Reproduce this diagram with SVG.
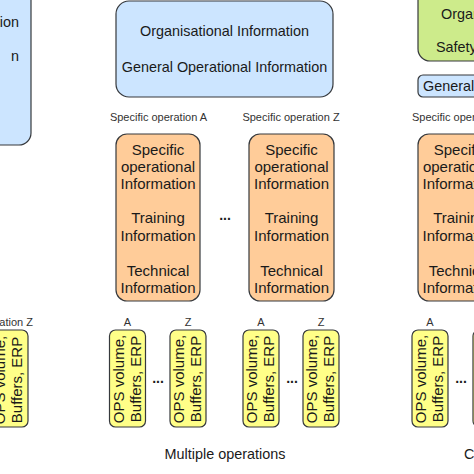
<svg xmlns="http://www.w3.org/2000/svg" width="474" height="474" viewBox="0 0 474 474">
<style>
  text { font-family: "Liberation Sans", Arial, sans-serif; fill: #1a1a1a; }
  .blue { fill: #cce5ff; stroke: #36393d; stroke-width: 1.2; }
  .green { fill: #cdeb8b; stroke: #36393d; stroke-width: 1.2; }
  .orange { fill: #ffcc99; stroke: #36393d; stroke-width: 1.2; }
  .yellow { fill: #ffff88; stroke: #36393d; stroke-width: 1.2; }
  .big { font-size: 14.4px; }
  .ot { font-size: 15px; text-anchor: middle; }
  .lab { font-size: 11px; fill: #333; }
  .yt { font-size: 15px; text-anchor: middle; }
  .dots { font-size: 14px; font-weight: bold; text-anchor: middle; }
</style>
<rect width="474" height="474" fill="#ffffff"/>

<g id="left-general">
  <rect class="blue" x="-60" y="-20" width="91" height="165" rx="12"/>
  <text class="big" x="19" y="27" text-anchor="end">ation</text>
  <text class="big" x="19" y="61" text-anchor="end">n</text>
</g>

<g id="left-yellow">
  <text class="lab" x="33" y="326" text-anchor="end">operation Z</text>
  <rect class="yellow" x="-9" y="330" width="37" height="97" rx="6"/>
  <text class="yt" transform="translate(0,380) rotate(-90)" dy="0.35em">OPS volume,</text>
  <text class="yt" transform="translate(17,380) rotate(-90)" dy="0.35em">Buffers, ERP</text>
</g>

<g id="general-multi">
  <rect class="blue" x="116" y="1" width="217" height="96" rx="13"/>
  <text class="big" x="224.5" y="36" text-anchor="middle">Organisational Information</text>
  <text class="big" x="224.5" y="72" text-anchor="middle">General Operational Information</text>
</g>

<g id="op-A">
  <text class="lab" x="158.5" y="121" text-anchor="middle">Specific operation A</text>
  <rect class="orange" x="116" y="134" width="84" height="167" rx="11"/>
  <text class="ot" x="158" y="155">Specific</text>
  <text class="ot" x="158" y="172">operational</text>
  <text class="ot" x="158" y="189">Information</text>
  <text class="ot" x="158" y="223">Training</text>
  <text class="ot" x="158" y="241">Information</text>
  <text class="ot" x="158" y="276">Technical</text>
  <text class="ot" x="158" y="293">Information</text>
</g>

<g id="op-Z">
  <text class="lab" x="291" y="121" text-anchor="middle">Specific operation Z</text>
  <rect class="orange" x="249" y="134" width="85" height="167" rx="11"/>
  <text class="ot" x="291.5" y="155">Specific</text>
  <text class="ot" x="291.5" y="172">operational</text>
  <text class="ot" x="291.5" y="189">Information</text>
  <text class="ot" x="291.5" y="223">Training</text>
  <text class="ot" x="291.5" y="241">Information</text>
  <text class="ot" x="291.5" y="276">Technical</text>
  <text class="ot" x="291.5" y="293">Information</text>
</g>
<text class="dots" x="225" y="220">...</text>

<g id="yA1">
  <text class="lab" x="127.5" y="326" text-anchor="middle">A</text>
  <rect class="yellow" x="109.5" y="330" width="36" height="97" rx="6"/>
  <text class="yt" transform="translate(118.5,379) rotate(-90)" dy="0.35em">OPS volume,</text>
  <text class="yt" transform="translate(135.5,379) rotate(-90)" dy="0.35em">Buffers, ERP</text>
</g>
<text class="dots" x="158" y="383">...</text>
<g id="yZ1">
  <text class="lab" x="188" y="326" text-anchor="middle">Z</text>
  <rect class="yellow" x="170" y="330" width="36" height="97" rx="6"/>
  <text class="yt" transform="translate(179,379) rotate(-90)" dy="0.35em">OPS volume,</text>
  <text class="yt" transform="translate(196,379) rotate(-90)" dy="0.35em">Buffers, ERP</text>
</g>
<g id="yA2">
  <text class="lab" x="261" y="326" text-anchor="middle">A</text>
  <rect class="yellow" x="243" y="330" width="36" height="97" rx="6"/>
  <text class="yt" transform="translate(252,379) rotate(-90)" dy="0.35em">OPS volume,</text>
  <text class="yt" transform="translate(269,379) rotate(-90)" dy="0.35em">Buffers, ERP</text>
</g>
<text class="dots" x="292" y="383">...</text>
<g id="yZ2">
  <text class="lab" x="321" y="326" text-anchor="middle">Z</text>
  <rect class="yellow" x="303" y="330" width="36" height="97" rx="6"/>
  <text class="yt" transform="translate(312,379) rotate(-90)" dy="0.35em">OPS volume,</text>
  <text class="yt" transform="translate(329,379) rotate(-90)" dy="0.35em">Buffers, ERP</text>
</g>
<text class="big" x="225" y="459" text-anchor="middle">Multiple operations</text>

<g id="right-general">
  <rect class="green" x="418" y="-20" width="120" height="81" rx="12"/>
  <text class="big" x="441" y="19">Organisational Information</text>
  <text class="big" x="436" y="52">Safety</text>
  <rect class="blue" x="418" y="75" width="120" height="22" rx="5"/>
  <text class="big" x="423" y="91">General</text>
</g>

<g id="right-op">
  <text class="lab" x="412" y="121">Specific operation</text>
  <rect class="orange" x="418" y="134" width="84" height="167" rx="11"/>
  <text class="ot" x="460" y="155">Specific</text>
  <text class="ot" x="460" y="172">operational</text>
  <text class="ot" x="460" y="189">Information</text>
  <text class="ot" x="460" y="223">Training</text>
  <text class="ot" x="460" y="241">Information</text>
  <text class="ot" x="460" y="276">Technical</text>
  <text class="ot" x="460" y="293">Information</text>
</g>
<g id="right-yellow">
  <text class="lab" x="430" y="326" text-anchor="middle">A</text>
  <rect class="yellow" x="412" y="330" width="36" height="97" rx="6"/>
  <text class="yt" transform="translate(421,379) rotate(-90)" dy="0.35em">OPS volume,</text>
  <text class="yt" transform="translate(438,379) rotate(-90)" dy="0.35em">Buffers, ERP</text>
  <rect class="yellow" x="473" y="330" width="36" height="97" rx="6"/>
</g>
<text class="dots" x="461" y="383">...</text>
<text class="big" x="464" y="459">C</text>
<g id="connectors"></g>
</svg>
